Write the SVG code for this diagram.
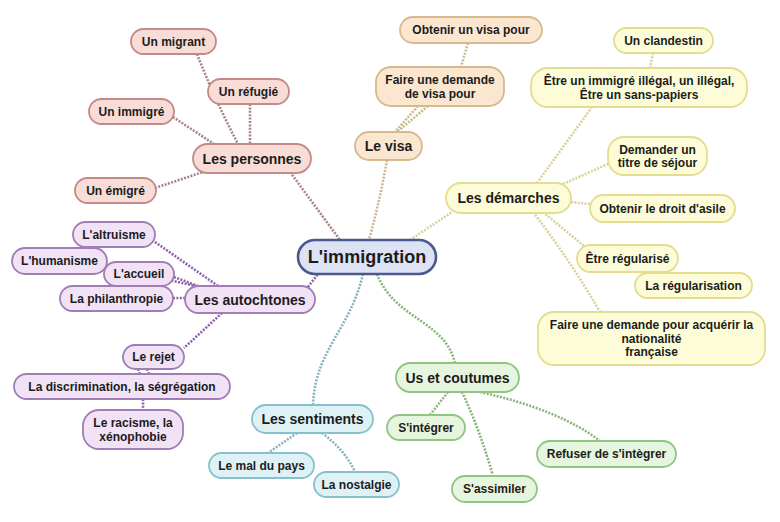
<svg xmlns="http://www.w3.org/2000/svg" width="780" height="522" viewBox="0 0 780 522">
<style>
text{font-family:"Liberation Sans",Arial,sans-serif;font-weight:bold;font-size:12px;fill:#1c1c1c;text-anchor:middle;dominant-baseline:central}
.b{font-size:14px}
.c{font-size:18px}
rect{stroke-width:1.8}
.pe rect{fill:#f8dcd7;stroke:#c48a86}
.vi rect{fill:#fbe6d0;stroke:#d8b98f}
.de rect{fill:#fdfcd8;stroke:#e4dc8e}
.au rect{fill:#f2e2f6;stroke:#a07db4}
.se rect{fill:#def2f6;stroke:#86c0cc}
.us rect{fill:#e6f5dd;stroke:#90c483}
.ce rect{fill:#dde2f4;stroke:#4b5a8c;stroke-width:2.6}
#connectors path{fill:none;stroke-width:2.6;stroke-dasharray:2 1.4}
.cpe{stroke:#a8838a}.cvi{stroke:#cbb98e}.cde{stroke:#d9d29a}.cau{stroke:#8e62aa}.cse{stroke:#86b4bc}.cus{stroke:#88b678}
</style>
<rect width="780" height="522" fill="#ffffff"/>
<g id="connectors">
<path class="cpe" d="M197,54 Q215,100 238,144"/>
<path class="cpe" d="M250,104 L250,144"/>
<path class="cpe" d="M173,117 L214,144"/>
<path class="cpe" d="M155,188 L203,172"/>
<path class="cpe" d="M290,172 L340,240"/>
<path class="cvi" d="M468,43 L461,67"/>
<path class="cvi" d="M418,106 L395,132"/>
<path class="cvi" d="M428,106 L397,132"/>
<path class="cvi" d="M387,160 Q380,200 369,240"/>
<path class="cde" d="M410,240 L452,212"/>
<path class="cde" d="M537,183 L592,107"/>
<path class="cde" d="M653,53 L650,68"/>
<path class="cde" d="M563,184 L608,164"/>
<path class="cde" d="M571,202 L590,204"/>
<path class="cde" d="M543,212 L584,246"/>
<path class="cde" d="M533,212 Q570,260 600,312"/>
<path class="cau" d="M308,287 L318,274"/>
<path class="cau" d="M155,242 L218,286"/>
<path class="cau" d="M125,270 L200,287"/>
<path class="cau" d="M174,277 L198,286"/>
<path class="cau" d="M173,298 L185,298"/>
<path class="cau" d="M222,313 L184,348"/>
<path class="cau" d="M138,369 L140,374"/>
<path class="cau" d="M147,369 L149,374"/>
<path class="cau" d="M143,399 L143,410"/>
<path class="cse" d="M363,274 C350,330 315,350 313,405"/>
<path class="cse" d="M297,433 L268,453"/>
<path class="cse" d="M322,433 Q345,450 355,472"/>
<path class="cus" d="M377,274 C395,320 445,320 455,363"/>
<path class="cus" d="M448,392 L430,415"/>
<path class="cus" d="M462,392 Q480,430 493,476"/>
<path class="cus" d="M480,392 Q560,410 600,441"/>
</g>
<g id="n-center" class="ce"><rect x="298" y="240" width="138" height="34" rx="17"/><text class="c" x="367" y="257">L'immigration</text></g>
<g id="n-personnes" class="pe"><rect x="193" y="144" width="118" height="29" rx="14.5"/><text class="b" x="252" y="158.5">Les personnes</text></g>
<g id="n-migrant" class="pe"><rect x="131" y="29" width="85" height="25" rx="12.5"/><text x="173.5" y="41.5">Un migrant</text></g>
<g id="n-refugie" class="pe"><rect x="208" y="79" width="81" height="25" rx="12.5"/><text x="248.5" y="91.5">Un réfugié</text></g>
<g id="n-immigre" class="pe"><rect x="89" y="99" width="85" height="25" rx="12.5"/><text x="131.5" y="111.5">Un immigré</text></g>
<g id="n-emigre" class="pe"><rect x="75" y="178" width="81" height="25" rx="12.5"/><text x="115.5" y="190.5">Un émigré</text></g>
<g id="n-visa" class="vi"><rect x="355" y="132" width="67" height="28" rx="14"/><text class="b" x="388.5" y="146">Le visa</text></g>
<g id="n-faire-visa" class="vi"><rect x="376" y="67" width="128" height="39" rx="15"/><text x="440" y="80">Faire une demande</text><text x="440" y="93.5">de visa pour</text></g>
<g id="n-obtenir-visa" class="vi"><rect x="400" y="17" width="142" height="26" rx="13"/><text x="471" y="30">Obtenir un visa pour</text></g>
<g id="n-demarches" class="de"><rect x="446" y="183" width="125" height="30" rx="15"/><text class="b" x="508.5" y="198">Les démarches</text></g>
<g id="n-clandestin" class="de"><rect x="614" y="28" width="99" height="25" rx="12.5"/><text x="663.5" y="40.5">Un clandestin</text></g>
<g id="n-illegal" class="de"><rect x="531" y="68" width="216" height="39" rx="17"/><text x="639" y="81">Être un immigré illégal, un illégal,</text><text x="639" y="94.5">Être un sans-papiers</text></g>
<g id="n-titre" class="de"><rect x="608" y="137" width="99" height="38" rx="16"/><text x="657.5" y="149.5">Demander un</text><text x="657.5" y="163">titre de séjour</text></g>
<g id="n-asile" class="de"><rect x="590" y="195" width="145" height="27" rx="13.5"/><text x="662.5" y="208.5">Obtenir le droit d'asile</text></g>
<g id="n-regularise" class="de"><rect x="577" y="245" width="101" height="27" rx="13.5"/><text x="627.5" y="258.5">Être régularisé</text></g>
<g id="n-regularisation" class="de"><rect x="635" y="273" width="117" height="25" rx="12.5"/><text x="693.5" y="285.5">La régularisation</text></g>
<g id="n-nationalite" class="de"><rect x="538" y="312" width="227" height="53" rx="16"/><text x="651.5" y="325">Faire une demande pour acquérir la</text><text x="651.5" y="338.5">nationalité</text><text x="651.5" y="352">française</text></g>
<g id="n-autochtones" class="au"><rect x="185" y="286" width="130" height="27" rx="13.5"/><text class="b" x="250" y="299.5">Les autochtones</text></g>
<g id="n-altruisme" class="au"><rect x="73" y="222" width="82" height="25" rx="12.5"/><text x="114" y="234.5">L'altruisme</text></g>
<g id="n-humanisme" class="au"><rect x="12" y="248" width="95" height="26" rx="13"/><text x="59.5" y="261">L'humanisme</text></g>
<g id="n-accueil" class="au"><rect x="104" y="262" width="70" height="24" rx="12"/><text x="139" y="274">L'accueil</text></g>
<g id="n-philanthropie" class="au"><rect x="60" y="286" width="113" height="25" rx="12.5"/><text x="116.5" y="298.5">La philanthropie</text></g>
<g id="n-rejet" class="au"><rect x="123" y="345" width="61" height="24" rx="12"/><text x="153.5" y="357">Le rejet</text></g>
<g id="n-discrimination" class="au"><rect x="14" y="374" width="216" height="25" rx="12.5"/><text x="122" y="386.5">La discrimination, la ségrégation</text></g>
<g id="n-racisme" class="au"><rect x="83" y="410" width="100" height="39" rx="16"/><text x="133" y="423">Le racisme, la</text><text x="133" y="436.5">xénophobie</text></g>
<g id="n-sentiments" class="se"><rect x="252" y="405" width="121" height="28" rx="14"/><text class="b" x="312.5" y="419">Les sentiments</text></g>
<g id="n-mal-pays" class="se"><rect x="209" y="453" width="105" height="25" rx="12.5"/><text x="261.5" y="465.5">Le mal du pays</text></g>
<g id="n-nostalgie" class="se"><rect x="314" y="472" width="85" height="25" rx="12.5"/><text x="356.5" y="484.5">La nostalgie</text></g>
<g id="n-us" class="us"><rect x="396" y="363" width="123" height="29" rx="14.5"/><text class="b" x="457.5" y="377.5">Us et coutumes</text></g>
<g id="n-integrer" class="us"><rect x="387" y="415" width="78" height="25" rx="12.5"/><text x="426" y="427.5">S'intégrer</text></g>
<g id="n-assimiler" class="us"><rect x="452" y="476" width="85" height="26" rx="13"/><text x="494.5" y="489">S'assimiler</text></g>
<g id="n-refuser" class="us"><rect x="537" y="441" width="139" height="26" rx="13"/><text x="606.5" y="454">Refuser de s'intègrer</text></g>
</svg>
